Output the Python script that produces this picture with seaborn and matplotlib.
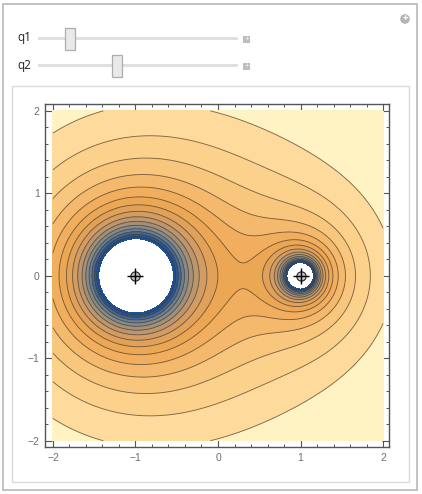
import numpy as np
import pandas as pd
import seaborn as sns
import matplotlib.pyplot as plt
from matplotlib.patches import Rectangle, Circle
from matplotlib.ticker import MultipleLocator

# charges and contour levels
charge_x = [-1, 1]
charge_y = [0, 0]
charge_q = [1.0, 0.3]
levels = [0.0, 0.587, 0.706, 0.825, 0.944, 1.063, 1.182, 1.301, 1.42, 1.539, 1.658, 1.777, 1.896, 2.015, 2.134, 2.253, 2.372]
band_colors = ['#fff3c4', '#fedb9c', '#fcd18c', '#f9c67e', '#f4b96c', '#f0ae5e', '#eba753', '#e2a158', '#d39c62',
               '#bd966d', '#a49078', '#878a88', '#6b7f92', '#476a97', '#2a5796', '#1d4f91']
tick_values = [-2, -1, 0, 1, 2]
slider_names = ['q1', 'q2']
slider_pos = [70, 117]
slider_y = [39, 66]

sns.set_theme(style='white')
plt.rcParams['font.family'] = ['Open Sans', 'DejaVu Sans']

W, H = 422, 494
fig = plt.figure(figsize=(W / 100, H / 100), dpi=100, facecolor='white')

# widget frame drawn in pixel coords
ui = fig.add_axes([0, 0, 1, 1])
ui.set_xlim(0, W)
ui.set_ylim(H, 0)
ui.axis('off')
ui.add_patch(Rectangle((3, 4), 414, 486, fc='white', ec='#b8b8b8', lw=1.2))
ui.add_patch(Rectangle((12, 86.5), 397, 395, fc='white', ec='#dadada', lw=1))
ui.add_patch(Circle((405, 19), 4.8, fc='#b4b4b4', ec='none'))
ui.text(405, 18.8, '+', color='white', fontsize=7, ha='center', va='center', weight='bold')
for name, px, py in zip(slider_names, slider_pos, slider_y):
    ui.text(17, py - 1, name, fontsize=8.5, color='#222222', va='center')
    ui.add_patch(Rectangle((38, py - 1.5), 200, 3, fc='#e0e0e0', ec='none'))
    ui.add_patch(Rectangle((px - 5, py - 11), 10, 22, fc='#e9e9e9', ec='#adadad', lw=0.9, zorder=3))
    ui.add_patch(Rectangle((243, py - 3), 7, 7, fc='#bdbdbd', ec='none'))
    ui.text(246.5, py + 0.3, '+', color='white', fontsize=6, ha='center', va='center')

ax = fig.add_axes([45.3 / W, 1 - 447.3 / H, 344 / W, 343 / H])

# potential of the two point charges on the plot region
gx = np.linspace(-2, 2, 801)
xx, yy = np.meshgrid(gx, gx)
field = np.zeros_like(xx)
for cx, cy, q in zip(charge_x, charge_y, charge_q):
    field += q / np.hypot(xx - cx, yy - cy).clip(1e-3)

ax.contourf(xx, yy, field, levels=levels, colors=sns.color_palette(band_colors))
ax.contour(xx, yy, field, levels=levels[1:-1], colors='#4a3d2c', linewidths=0.65, alpha=0.7)

marks = pd.DataFrame({'x': charge_x, 'y': charge_y})
sns.scatterplot(data=marks, x='x', y='y', ax=ax, s=45, color='#c4c4c4', edgecolor='#222222', linewidth=0.8, legend=False, zorder=5)
sns.scatterplot(data=marks, x='x', y='y', ax=ax, s=140, marker='+', color='black', linewidth=1, legend=False, zorder=6)

ax.set_xlim(-2.093, 2.076)
ax.set_ylim(-2.08, 2.08)
ax.set_xlabel('')
ax.set_ylabel('')
ax.set_xticks(tick_values)
ax.set_yticks(tick_values)
ax.set_xticklabels([str(t).replace('-', '\u2212') for t in tick_values], family='Liberation Sans')
ax.set_yticklabels([str(t).replace('-', '\u2212') for t in tick_values], family='Liberation Sans')
ax.xaxis.set_minor_locator(MultipleLocator(0.2))
ax.yaxis.set_minor_locator(MultipleLocator(0.2))
ax.tick_params(which='major', direction='in', length=5, width=0.8, color='#555555', labelcolor='#6e6e6e',
               labelsize=7.5, top=True, right=True, bottom=True, left=True, pad=4)
ax.tick_params(which='minor', direction='in', length=2.5, width=0.7, color='#555555',
               top=True, right=True, bottom=True, left=True)
for s in ax.spines.values():
    s.set_color('#555555')
    s.set_linewidth(1)

fig.savefig('out.png', dpi=100)
